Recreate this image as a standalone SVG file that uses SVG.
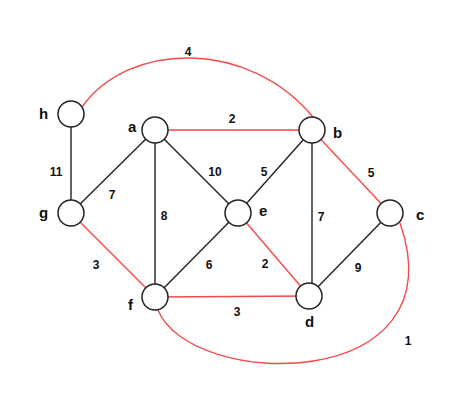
<svg xmlns="http://www.w3.org/2000/svg" width="476" height="400" viewBox="0 0 476 400">
<style>
.k{stroke:#222;stroke-width:1.4;fill:none}
.r{stroke:#f24a4a;stroke-width:1.4;fill:none}
.n circle{fill:#fff;stroke:#222;stroke-width:1.5}
.n text{font-family:"Liberation Sans",Arial,sans-serif;font-size:15px;font-weight:bold;fill:#111}
.w{font-family:"Liberation Sans",Arial,sans-serif;font-size:12px;font-weight:bold;fill:#111;text-anchor:middle}
</style>
<rect width="476" height="400" fill="#fff"/>
<g id="edges">
<line class="k" x1="71" y1="114" x2="71" y2="213"/>
<line class="k" x1="155" y1="130" x2="71" y2="213"/>
<line class="k" x1="155" y1="130" x2="155" y2="297"/>
<line class="k" x1="155" y1="130" x2="238" y2="213"/>
<line class="r" x1="155" y1="130" x2="312" y2="130"/>
<line class="k" x1="312" y1="130" x2="238" y2="213"/>
<line class="k" x1="312" y1="130" x2="312" y2="296"/>
<line class="r" x1="312" y1="130" x2="390" y2="213"/>
<line class="r" x1="71" y1="213" x2="155" y2="297"/>
<line class="k" x1="155" y1="297" x2="238" y2="213"/>
<line class="r" x1="238" y1="213" x2="309" y2="296"/>
<line class="r" x1="155" y1="297" x2="309" y2="296"/>
<line class="k" x1="309" y1="296" x2="390" y2="213"/>
<path class="r" d="M82,107 C130,40 250,40 313,117"/>
<path class="r" d="M158,310 C190,390 460,395 400,223"/>
<text class="w" x="188" y="56">4</text>
<text class="w" x="232" y="123">2</text>
<text class="w" x="56" y="176">11</text>
<text class="w" x="215" y="176">10</text>
<text class="w" x="264" y="176">5</text>
<text class="w" x="371" y="177">5</text>
<text class="w" x="112" y="199">7</text>
<text class="w" x="164" y="220">8</text>
<text class="w" x="321" y="221">7</text>
<text class="w" x="96" y="269">3</text>
<text class="w" x="209" y="269">6</text>
<text class="w" x="265" y="268">2</text>
<text class="w" x="358" y="272">9</text>
<text class="w" x="237" y="316">3</text>
<text class="w" x="408" y="345">1</text>
</g>
<g id="h" class="n"><circle cx="71" cy="114" r="13"/><text x="39" y="119">h</text></g>
<g id="a" class="n"><circle cx="155" cy="130" r="13"/><text x="128" y="132">a</text></g>
<g id="b" class="n"><circle cx="312" cy="130" r="13"/><text x="333" y="138">b</text></g>
<g id="g" class="n"><circle cx="71" cy="213" r="13"/><text x="39" y="218">g</text></g>
<g id="e" class="n"><circle cx="238" cy="213" r="13"/><text x="259" y="216">e</text></g>
<g id="c" class="n"><circle cx="390" cy="213" r="13"/><text x="416" y="220">c</text></g>
<g id="f" class="n"><circle cx="155" cy="297" r="13"/><text x="128" y="310">f</text></g>
<g id="d" class="n"><circle cx="309" cy="296" r="13"/><text x="305" y="327">d</text></g>
</svg>
